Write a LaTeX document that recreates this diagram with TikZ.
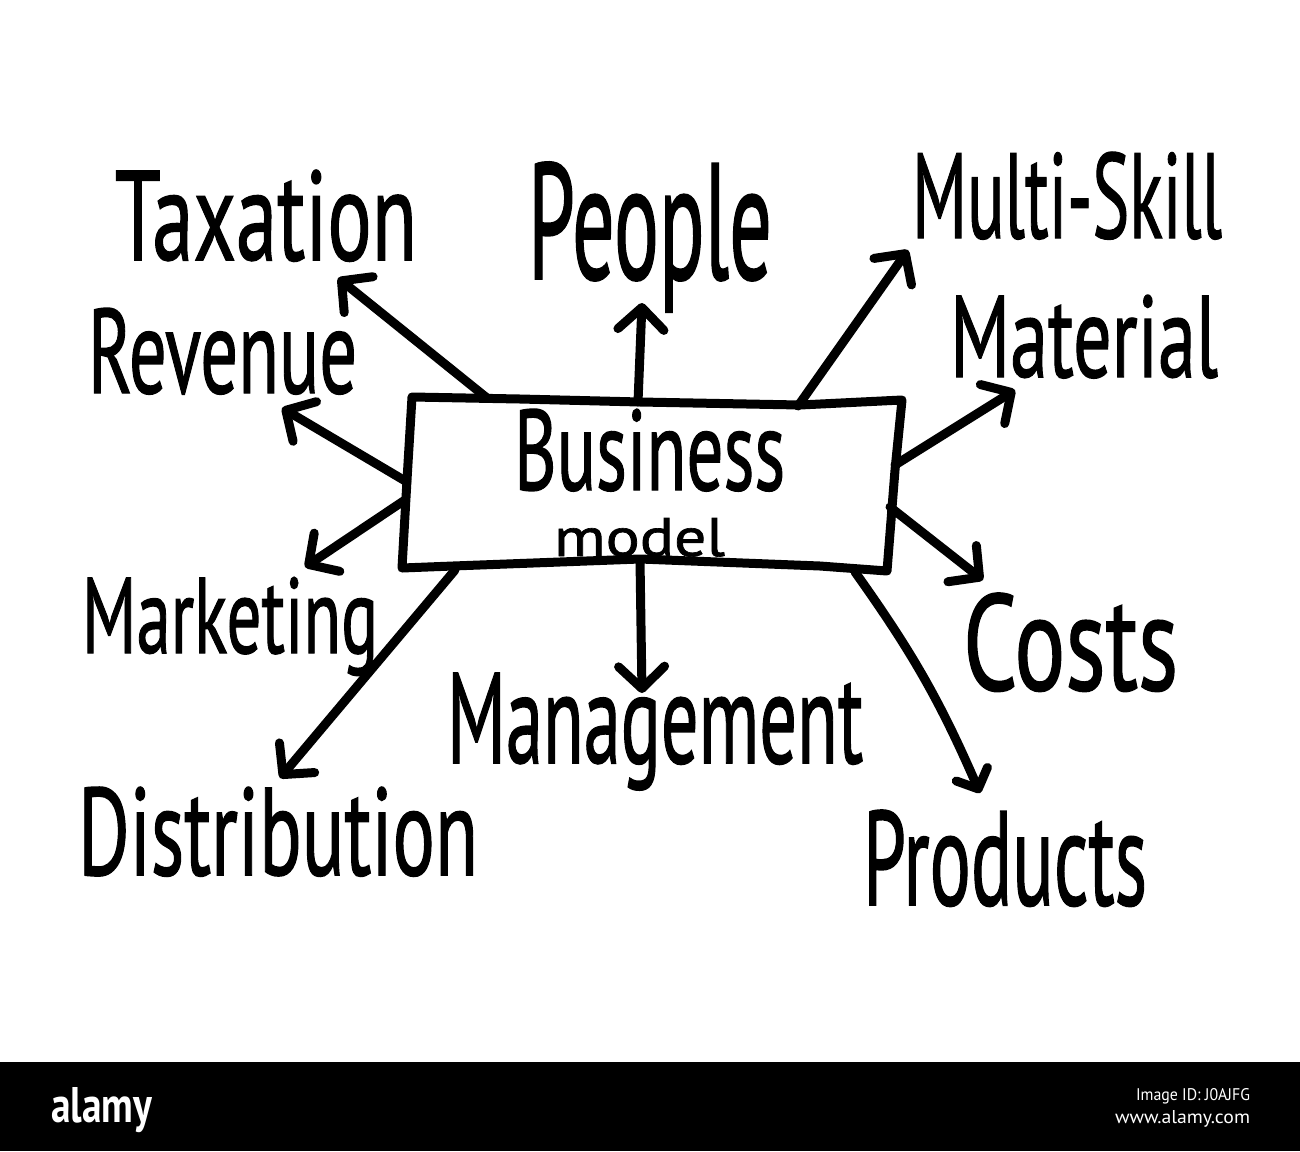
\documentclass[tikz,border=0pt]{standalone}
\usepackage{fontspec}
\setmainfont{PT Sans}
\newfontfamily\handfont{PT Sans}[FakeBold=1.2]
\usetikzlibrary{arrows.meta}
\newcommand{\hw}[3]{\resizebox{#1pt}{#2pt}{#3}}
\begin{document}
\begin{tikzpicture}[x=1pt,y=-1pt,
  lbl/.style={anchor=base west,inner sep=0pt,outer sep=0pt,text=black,font=\handfont},
  foot/.style={anchor=base west,inner sep=0pt,outer sep=0pt,text=white},
  link/.style={line width=9pt,line cap=round,line join=round,
    -{Straight Barb[length=22pt,width=46pt,round]}},
  smalllink/.style={line width=9pt,line cap=round,line join=round,
    -{Straight Barb[length=16pt,width=34pt,round]}},
  outline/.style={line width=9pt,line cap=round,line join=round}]
\useasboundingbox (0,0) rectangle (1300,1151);
\fill[white] (0,0) rectangle (1300,1151);

% labels
\node[lbl] (tax) at (115,260) {\hw{302}{90}{Taxation}};
\node[lbl] (rev) at (88,393) {\hw{269}{85}{Revenue}};
\node[lbl] (ppl) at (528,279) {\hw{244}{117}{People}};
\node[lbl] (msk) at (912,238) {\hw{310}{86}{Multi-Skill}};
\node[lbl] (mat) at (950,377) {\hw{268}{82}{Material}};
\node[lbl] (mkt) at (82,653) {\hw{296}{76}{Marketing}};
\node[lbl] (cst) at (963,690) {\hw{215}{97}{Costs}};
\node[lbl] (mgt) at (447,763) {\hw{416}{90}{Management}};
\node[lbl] (dst) at (78,875) {\hw{400}{88}{Distribution}};
\node[lbl] (prd) at (863,905) {\hw{284}{95}{Products}};

% central box
\coordinate (tl) at (412,397);
\coordinate (tr) at (902,400);
\coordinate (br) at (887,571);
\coordinate (bl) at (402,568);
\draw[outline] (tl) -- (520,399) -- (640,402) -- (800,405) -- (tr)
  -- (895,470) -- (br) -- (820,566) -- (640,559) -- (453,566) -- (bl) -- (407,480) -- cycle;
\node[lbl] (bus) at (514,490) {\hw{271}{81}{Business}};
\node[lbl] (mdl) at (554,556) {\hw{171}{38}{model}};

% connector start points on the box
\coordinate (sTax) at (487,398);
\coordinate (sPpl) at (638,402);
\coordinate (sMsk) at (798,406);
\coordinate (sRev) at (407,482);
\coordinate (sMat) at (895,465);
\coordinate (sMkt) at (405,500);
\coordinate (sCst) at (890,507);
\coordinate (sMgt) at (640,560);
\coordinate (sDst) at (455,570);
\coordinate (sPrd) at (855,572);
% arrow tips
\coordinate (eTax) at (338,278);
\coordinate (ePpl) at (642,303);
\coordinate (eMsk) at (908,250);
\coordinate (eRev) at (282,408);
\coordinate (eMat) at (1015,390);
\coordinate (eMkt) at (305,567);
\coordinate (eCst) at (983,580);
\coordinate (eMgt) at (642,693);
\coordinate (eDst) at (280,778);
\coordinate (ePrd) at (980,793);

\draw[link] (sTax) -- (eTax);
\draw[link] (sPpl) -- (ePpl);
\draw[link] (sMsk) -- (eMsk);
\draw[link] (sRev) -- (eRev);
\draw[link] (sMat) -- (eMat);
\draw[link] (sMkt) -- (eMkt);
\draw[link] (sCst) -- (eCst);
\draw[link] (sMgt) -- (eMgt);
\draw[link] (sDst) -- (eDst);
\draw[smalllink] (sPrd) to[bend left=6] (ePrd);

% footer band
\fill[black] (0,1062) rectangle (1300,1151);
\node[foot,font=\bfseries] (logo) at (51,1122) {\hw{101}{35}{alamy}};
\node[foot] (imgid) at (1136,1100) {\hw{114}{12}{Image ID: J0AJFG}};
\node[foot] (web) at (1115,1123) {\hw{135}{13}{www.alamy.com}};
\end{tikzpicture}
\end{document}
